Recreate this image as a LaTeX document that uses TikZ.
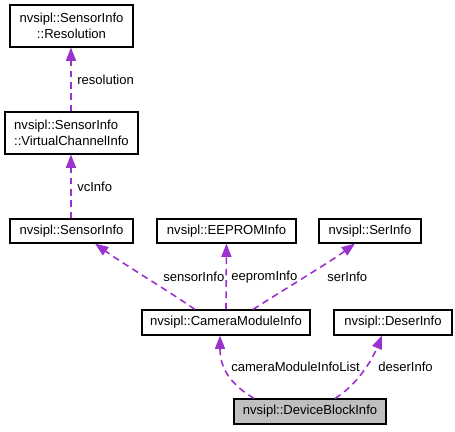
\documentclass[tikz,border=0pt]{standalone}
\usepackage{fontspec}
\setmainfont{Liberation Sans}
\usepackage{xcolor}
\usetikzlibrary{arrows.meta}
\definecolor{edgepurple}{HTML}{9A32CD}
\definecolor{focusgray}{HTML}{BFBFBF}
\tikzset{
  cls/.style={rectangle,draw=black,line width=0.8pt,fill=white,inner sep=0pt,
    font=\fontsize{9.8}{12}\selectfont},
  focus/.style={cls,fill=focusgray},
  member/.style={-{Triangle[length=10pt,width=7.5pt]},line width=1.2pt,
    draw=edgepurple,dash pattern=on 5pt off 3.5pt},
  lbl/.style={anchor=west,inner sep=0pt,font=\fontsize{9.8}{12}\selectfont}
}
\begin{document}
\begin{tikzpicture}[x=0.75pt,y=-0.75pt]
\useasboundingbox (0,0) rectangle (455,432);
% classes
\node[cls,minimum width=92.25pt,minimum height=31.5pt,align=center] (res) at (71.5,26)
  {nvsipl::SensorInfo\\::Resolution};
\node[cls,minimum width=99.75pt,minimum height=31.5pt,align=left] (vci) at (71.5,133)
  {nvsipl::SensorInfo\\::VirtualChannelInfo};
\node[cls,minimum width=92.25pt,minimum height=18pt] (sen) at (71.5,231) {nvsipl::SensorInfo};
\node[cls,minimum width=104.25pt,minimum height=18pt] (eep) at (226.5,231) {nvsipl::EEPROMInfo};
\node[cls,minimum width=76.5pt,minimum height=18pt] (ser) at (370,231) {nvsipl::SerInfo};
\node[cls,minimum width=126pt,minimum height=18.75pt] (cam) at (226,322.5) {nvsipl::CameraModuleInfo};
\node[cls,minimum width=88.5pt,minimum height=18.75pt] (des) at (393,322.5) {nvsipl::DeserInfo};
\node[focus,minimum width=114pt,minimum height=18.75pt] (dev) at (310,411.5) {nvsipl::DeviceBlockInfo};
% members
\draw[member] ([xshift=-0.4pt]vci.north) -- ([xshift=-0.4pt]res.south);
\draw[member] ([xshift=-0.4pt]sen.north) -- ([xshift=-0.4pt]vci.south);
\draw[member] ([xshift=-23.25pt]cam.north) .. controls (170,292) and (125,265) .. ([xshift=17.6pt]sen.south);
\draw[member] (cam.north) -- (eep.south);
\draw[member] ([xshift=20.25pt]cam.north) .. controls (280,292) and (330,262) .. ([xshift=-11.25pt]ser.south);
\draw[member] ([xshift=-42pt]dev.north) .. controls (232,385) and (220,370) .. ([xshift=-4.5pt]cam.south);
\draw[member] ([xshift=18.75pt]dev.north) .. controls (358,384) and (372,360) .. ([xshift=-8.25pt]des.south);
% labels
\node[lbl] (lres) at (77,80) {resolution};
\node[lbl] (lvci) at (77,187) {vcInfo};
\node[lbl] (lsen) at (163,277) {sensorInfo};
\node[lbl] (leep) at (231,277) {eepromInfo};
\node[lbl] (lser) at (327,277) {serInfo};
\node[lbl] (lcam) at (231,367) {cameraModuleInfoList};
\node[lbl] (ldes) at (378,367) {deserInfo};
\end{tikzpicture}
\end{document}
